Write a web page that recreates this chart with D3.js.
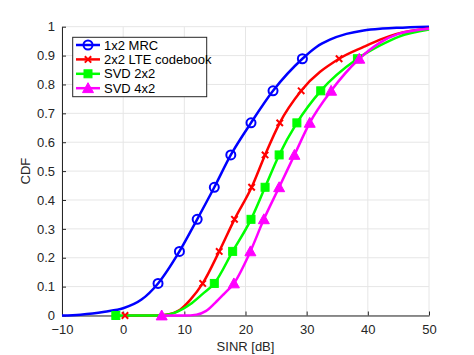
<!DOCTYPE html>
<html><head><meta charset="utf-8">
<script src="https://cdn.jsdelivr.net/npm/d3@7/dist/d3.min.js"></script>
<style>
body{margin:0;background:#fff;}
svg{display:block;font-family:"Liberation Sans",Arial,Helvetica,sans-serif;}
</style></head><body>
<svg id="chart" width="474" height="355"></svg>
<script>
// ---- data ----
const xTicks = [-10, 0, 10, 20, 30, 40, 50];
const yTicks = [0, 0.1, 0.2, 0.3, 0.4, 0.5, 0.6, 0.7, 0.8, 0.9, 1];
const seriesNames = ["1x2 MRC", "2x2 LTE codebook", "SVD 2x2", "SVD 4x2"];
const seriesColors = ["#0000ff", "#ff0000", "#00ff00", "#ff00ff"];
const seriesMarkers = ["circle", "cross", "square", "triangle"];

const mrcX = [-10, -7, -5, -3, 0, 3, 5.7, 9.2, 12.1, 14.9, 17.6, 20.9, 24.5, 29.3, 31.6, 33.8, 36.5, 39.3, 42, 44.7, 50];
const mrcY = [0, 0.003, 0.007, 0.013, 0.025, 0.055, 0.111, 0.222, 0.333, 0.444, 0.556, 0.667, 0.778, 0.889, 0.93, 0.955, 0.975, 0.987, 0.993, 0.996, 1];
const lteX = [0.3, 5, 7, 9.3, 11, 13.0, 15.7, 18.2, 21.0, 23.2, 25.6, 29.1, 35.3, 39.3, 42, 44.7, 50];
const lteY = [0, 0, 0.003, 0.02, 0.055, 0.111, 0.222, 0.333, 0.444, 0.556, 0.667, 0.778, 0.889, 0.93, 0.955, 0.975, 0.994];
const svd22X = [-1.2, 5, 6.8, 8.5, 10.9, 13.0, 14.9, 17.9, 20.9, 23.2, 25.5, 28.4, 32.3, 38.3, 42, 45, 50];
const svd22Y = [0, 0, 0.002, 0.01, 0.038, 0.075, 0.111, 0.222, 0.333, 0.444, 0.556, 0.667, 0.778, 0.889, 0.935, 0.965, 0.99];
const svd42X = [6.3, 10, 12, 13.5, 15, 16.5, 18.1, 20.8, 23.0, 25.5, 28.0, 30.5, 34.0, 38.6, 42, 45, 50];
const svd42Y = [0, 0, 0.003, 0.015, 0.043, 0.075, 0.111, 0.222, 0.333, 0.444, 0.556, 0.667, 0.778, 0.889, 0.945, 0.975, 0.993];

// marker positions (x in dB, CDF)
const mrcMkX = [5.7, 9.2, 12.1, 14.9, 17.6, 20.9, 24.5, 29.3];
const mrcMkY = [0.111, 0.222, 0.333, 0.444, 0.556, 0.667, 0.778, 0.889];
const lteMkX = [0.3, 13.0, 15.7, 18.2, 21.0, 23.2, 25.6, 29.1, 35.3];
const lteMkY = [0, 0.111, 0.222, 0.333, 0.444, 0.556, 0.667, 0.778, 0.889];
const svd22MkX = [-1.2, 14.9, 17.9, 20.9, 23.2, 25.5, 28.4, 32.3, 38.3];
const svd22MkY = [0, 0.111, 0.222, 0.333, 0.444, 0.556, 0.667, 0.778, 0.889];
const svd42MkX = [6.3, 18.1, 20.8, 23.0, 25.5, 28.0, 30.5, 34.0, 38.6];
const svd42MkY = [0, 0.111, 0.222, 0.333, 0.444, 0.556, 0.667, 0.778, 0.889];

const xLabel = "SINR [dB]";
const yLabel = "CDF";

// ---- build ----
const lines = [[mrcX, mrcY], [lteX, lteY], [svd22X, svd22Y], [svd42X, svd42Y]];
const marks = [[mrcMkX, mrcMkY], [lteMkX, lteMkY], [svd22MkX, svd22MkY], [svd42MkX, svd42MkY]];

const svg = d3.select("#chart");
const L = 62, R = 429, T = 26.7, B = 315.5;
const x = d3.scaleLinear().domain([-10, 50]).range([L, R]);
const y = d3.scaleLinear().domain([0, 1]).range([B, T]);
const axisCol = "#262626";

// grid
const g = svg.append("g");
g.selectAll(".gx").data(xTicks).enter().append("line")
  .attr("x1", d => x(d)).attr("x2", d => x(d)).attr("y1", T).attr("y2", B)
  .attr("stroke", "#e6e6e6").attr("stroke-width", 1);
g.selectAll(".gy").data(yTicks).enter().append("line")
  .attr("x1", L).attr("x2", R).attr("y1", d => y(d)).attr("y2", d => y(d))
  .attr("stroke", "#e6e6e6").attr("stroke-width", 1);

// axes
const xAxis = d3.axisBottom(x).tickValues(xTicks).tickSizeInner(-4).tickSizeOuter(0).tickPadding(9).tickFormat(d3.format("d"));
const yAxis = d3.axisLeft(y).tickValues(yTicks).tickSizeInner(-4).tickSizeOuter(0).tickPadding(7).tickFormat(d => d === 0 || d === 1 ? String(d) : d3.format(".1f")(d));
const gx = svg.append("g").attr("transform", `translate(0,${B})`).call(xAxis);
const gy = svg.append("g").attr("transform", `translate(${L},0)`).call(yAxis);
[gx, gy].forEach(a => {
  a.selectAll("path").attr("stroke", axisCol).attr("stroke-width", 1);
  a.selectAll("line").attr("stroke", axisCol);
  a.selectAll("text").attr("fill", axisCol).attr("font-size", 13);
});

// curves
const lineGen = d3.line().x(d => x(d[0])).y(d => y(d[1])).curve(d3.curveMonotoneX);
const plot = svg.append("g");
lines.forEach((s, i) => {
  const pts = s[0].map((v, j) => [v, s[1][j]]);
  plot.append("path").datum(pts).attr("d", lineGen)
    .attr("fill", "none").attr("stroke", seriesColors[i]).attr("stroke-width", 2.5)
    .attr("stroke-linejoin", "round");
});

function drawMarker(sel, type, col, cx, cy) {
  if (type === "circle") {
    sel.append("circle").attr("cx", cx).attr("cy", cy).attr("r", 4.5)
      .attr("fill", "none").attr("stroke", col).attr("stroke-width", 2);
  } else if (type === "cross") {
    const s = 3.2;
    sel.append("path").attr("d", `M${cx - s},${cy - s}L${cx + s},${cy + s}M${cx - s},${cy + s}L${cx + s},${cy - s}`)
      .attr("stroke", col).attr("stroke-width", 2).attr("fill", "none");
  } else if (type === "square") {
    const s = 4;
    sel.append("rect").attr("x", cx - s).attr("y", cy - s).attr("width", 2 * s).attr("height", 2 * s)
      .attr("fill", col).attr("stroke", col).attr("stroke-width", 1);
  } else if (type === "triangle") {
    const s = 5.5;
    sel.append("path").attr("d", `M${cx},${cy - s}L${cx + s},${cy + s * 0.8}L${cx - s},${cy + s * 0.8}Z`)
      .attr("fill", col).attr("stroke", col).attr("stroke-width", 1);
  }
}
marks.forEach((m, i) => {
  m[0].forEach((v, j) => drawMarker(plot, seriesMarkers[i], seriesColors[i], x(v), y(m[1][j])));
});

// labels
svg.append("text").attr("x", (L + R) / 2).attr("y", 351).attr("text-anchor", "middle")
  .attr("font-size", 13).attr("fill", axisCol).text(xLabel);
svg.append("text").attr("transform", `translate(30,${(T + B) / 2}) rotate(-90)`).attr("text-anchor", "middle")
  .attr("font-size", 13).attr("fill", axisCol).text(yLabel);

// legend
const lg = svg.append("g");
lg.append("rect").attr("x", 72.7).attr("y", 37.3).attr("width", 134).attr("height", 59.4)
  .attr("fill", "#fff").attr("stroke", axisCol).attr("stroke-width", 1);
seriesNames.forEach((n, i) => {
  const yy = 45 + i * 14.4;
  lg.append("line").attr("x1", 76).attr("x2", 100).attr("y1", yy).attr("y2", yy)
    .attr("stroke", seriesColors[i]).attr("stroke-width", 2.5);
  drawMarker(lg, seriesMarkers[i], seriesColors[i], 88, yy);
  lg.append("text").attr("x", 104).attr("y", yy + 4.6).attr("font-size", 13)
    .attr("fill", "#000").text(n);
});
</script>
</body></html>
